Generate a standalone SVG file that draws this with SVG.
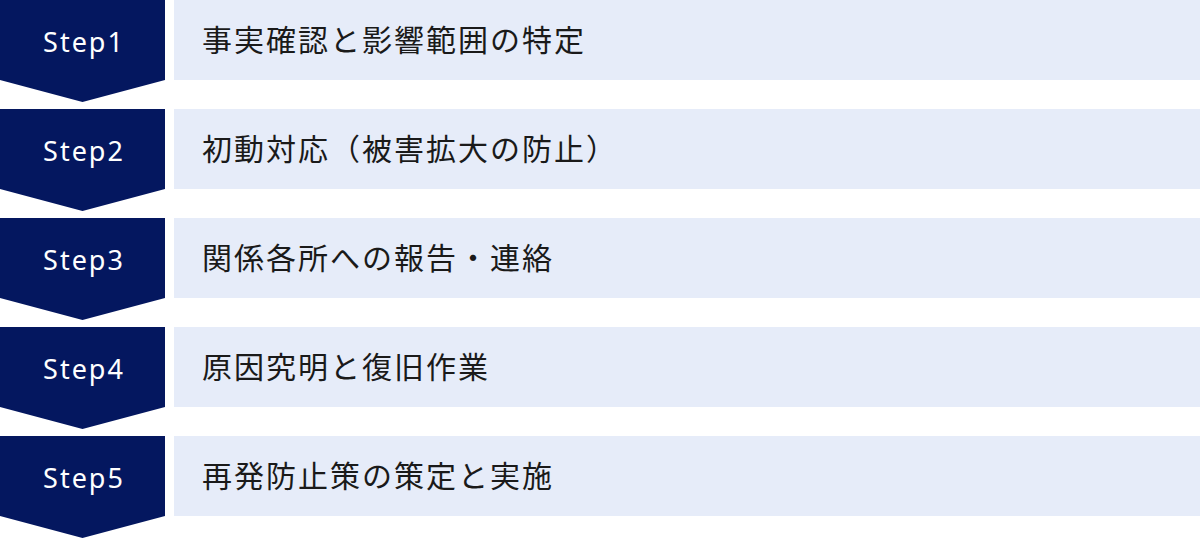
<svg xmlns="http://www.w3.org/2000/svg" width="1200" height="538" viewBox="0 0 1200 538">
<defs>
<style>
.chev{fill:#04175F;}
.box{fill:#E6ECF9;}
.step{font-family:"Noto Sans","Noto Sans CJK JP",sans-serif;font-size:27px;font-weight:400;fill:#FFFFFF;text-anchor:middle;letter-spacing:2px;}
.lbl{font-family:"Noto Sans CJK JP","Noto Sans",sans-serif;font-size:30px;font-weight:400;fill:#1A1A1A;letter-spacing:2px;}
</style>
<path id="chevShape" d="M0 0H165V80L82.5 102L0 80Z"/>
</defs>
<rect width="1200" height="538" fill="#FFFFFF"/>
<g id="connectors"></g>
<g id="step1" transform="translate(0,0)">
<use href="#chevShape" class="chev"/>
<rect class="box" x="174" y="0" width="1026" height="80"/>
<text class="step" x="84" y="52">Step1</text>
<text class="lbl" x="202" y="51">事実確認と影響範囲の特定</text>
</g>
<g id="step2" transform="translate(0,109)">
<use href="#chevShape" class="chev"/>
<rect class="box" x="174" y="0" width="1026" height="80"/>
<text class="step" x="84" y="52">Step2</text>
<text class="lbl" x="202" y="51">初動対応（被害拡大の防止）</text>
</g>
<g id="step3" transform="translate(0,218)">
<use href="#chevShape" class="chev"/>
<rect class="box" x="174" y="0" width="1026" height="80"/>
<text class="step" x="84" y="52">Step3</text>
<text class="lbl" x="202" y="51">関係各所への報告・連絡</text>
</g>
<g id="step4" transform="translate(0,327)">
<use href="#chevShape" class="chev"/>
<rect class="box" x="174" y="0" width="1026" height="80"/>
<text class="step" x="84" y="52">Step4</text>
<text class="lbl" x="202" y="51">原因究明と復旧作業</text>
</g>
<g id="step5" transform="translate(0,436)">
<use href="#chevShape" class="chev"/>
<rect class="box" x="174" y="0" width="1026" height="80"/>
<text class="step" x="84" y="52">Step5</text>
<text class="lbl" x="202" y="51">再発防止策の策定と実施</text>
</g>
</svg>
